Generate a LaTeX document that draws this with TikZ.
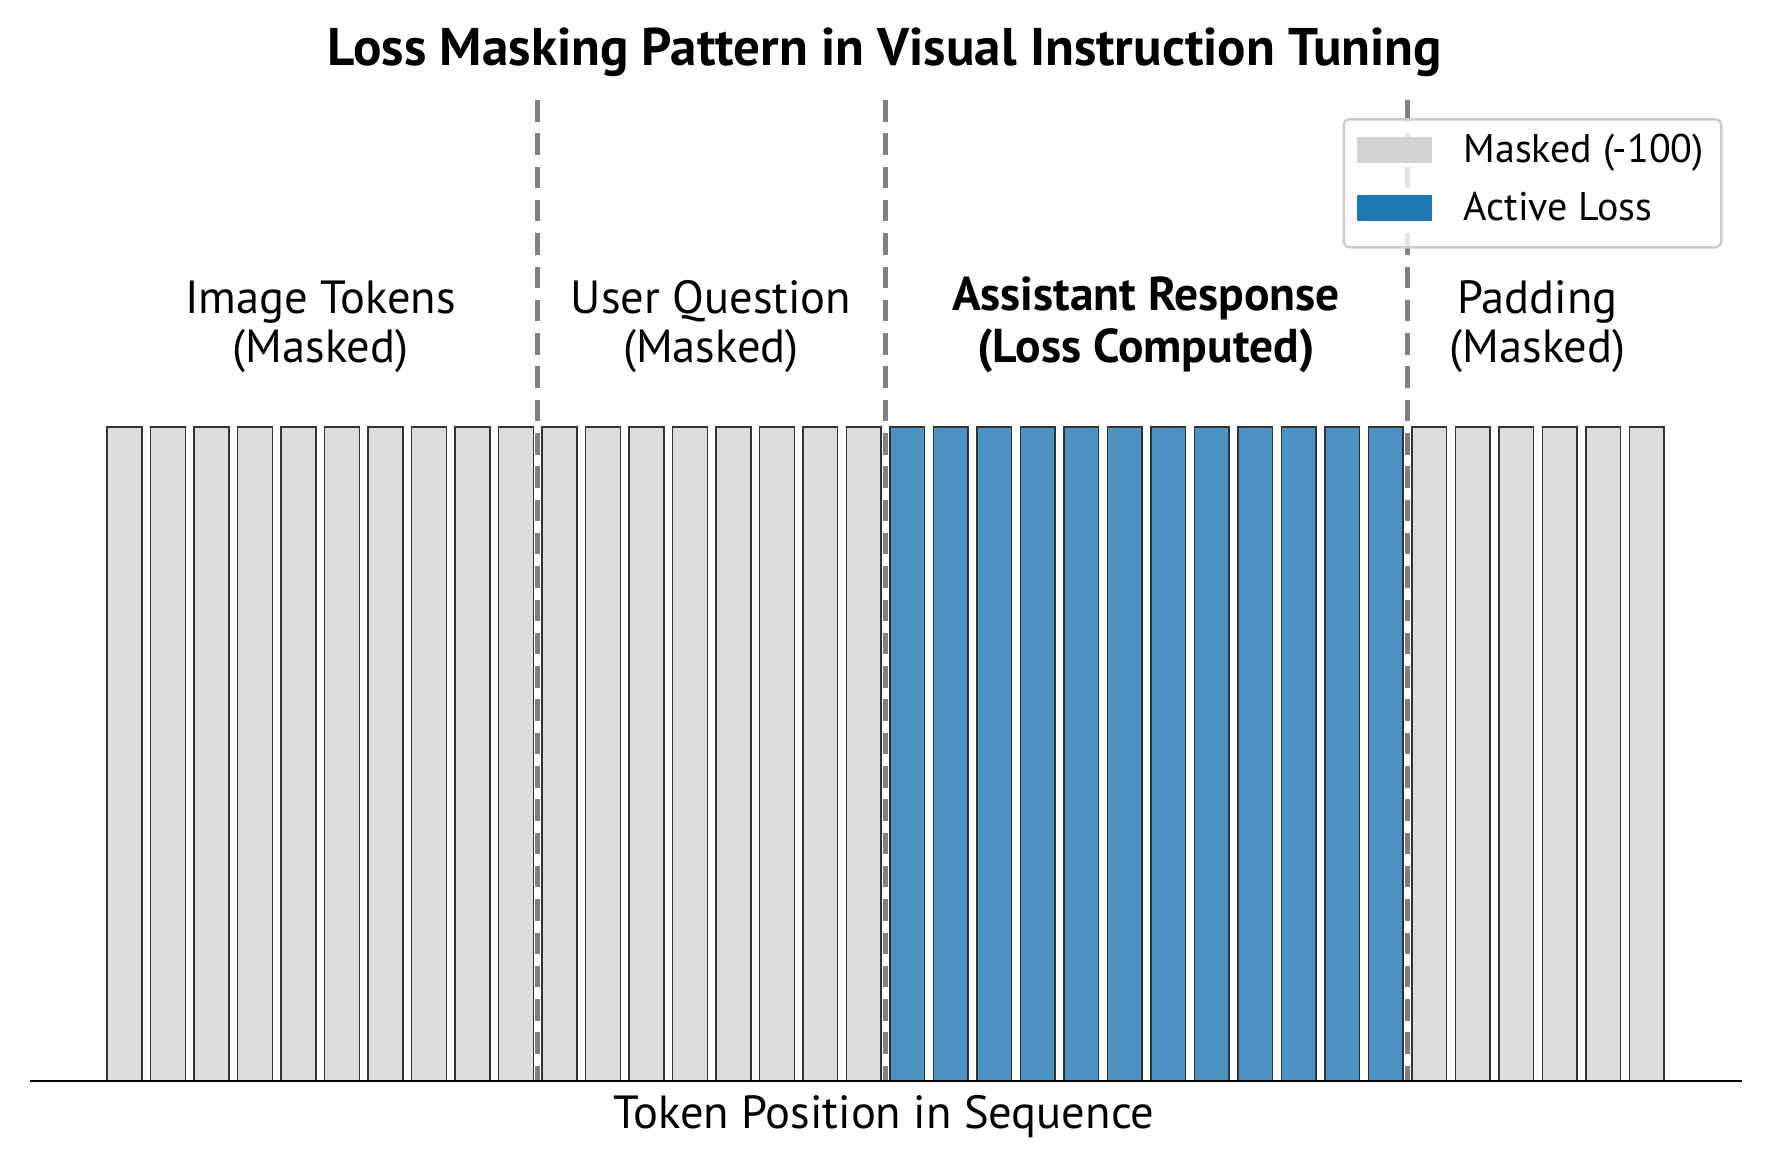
\documentclass[tikz,border=0pt]{standalone}
\usepackage{fontspec}
\setmainfont{PT Sans}
\definecolor{maskgray}{HTML}{DCDCDC}
\definecolor{activeblue}{HTML}{4C92C3}
\definecolor{legblue}{HTML}{1F77B4}
\definecolor{leggray}{HTML}{D3D3D3}
\definecolor{edgec}{HTML}{333333}
\definecolor{sepgray}{HTML}{808080}
\definecolor{legframe}{HTML}{CCCCCC}
\begin{document}
\begin{tikzpicture}[x=1pt,y=-1pt,
  tokbar/.style={draw=edgec,line width=1.5pt,inner sep=0pt,outer sep=0pt,
    minimum width=34.8pt,minimum height=654pt,anchor=south},
  sepline/.style={draw=sepgray,line width=5.5pt,dash pattern=on 21.5pt off 11.8pt},
  lbl/.style={font=\fontsize{46.5}{55}\selectfont,anchor=base,inner sep=0pt},
  lblb/.style={font=\fontsize{47.5}{56}\selectfont\bfseries,anchor=base,inner sep=0pt},
  legt/.style={font=\fontsize{40}{48}\selectfont,anchor=base west,inner sep=0pt},
  legpatch/.style={minimum width=75.5pt,minimum height=26.6pt,anchor=north west,inner sep=0pt,outer sep=0pt}]
\useasboundingbox (0,0) rectangle (1770,1170);
% separators (behind bars)
\foreach \k/\sx in {1/537.7,2/885.6,3/1407.5}{
  \coordinate (s\k t) at (\sx,100);
  \coordinate (s\k b) at (\sx,1081);
  \draw[sepline] (s\k t) -- (s\k b);
}
% bars
\foreach \i in {0,...,35}{
  \pgfmathsetmacro{\cx}{124.5+\i*43.49}
  \pgfmathtruncatemacro{\act}{(\i>17)&&(\i<30)}
  \ifnum\act=1 \def\fc{activeblue}\else\def\fc{maskgray}\fi
  \node[tokbar,fill=\fc] (b\i) at (\cx,1081) {};
}
% axis
\coordinate (axl) at (29.5,1081);
\coordinate (axr) at (1741.5,1081);
\draw[black,line width=2.7pt] (axl) -- (axr);
% title
\node[font=\fontsize{53}{62}\selectfont\bfseries,anchor=base,inner sep=0pt] (title) at (885,65) {Loss Masking Pattern in Visual Instruction Tuning};
% section labels
\node[lbl] (img1) at (320.5,313) {Image Tokens};
\node[lbl] (img2) at (320.5,362) {(Masked)};
\node[lbl] (usr1) at (711,313) {User Question};
\node[lbl] (usr2) at (711,362) {(Masked)};
\node[lblb] (ast1) at (1146,310) {Assistant Response};
\node[lblb] (ast2) at (1146,362) {(Loss Computed)};
\node[lbl] (pad1) at (1537.5,313) {Padding};
\node[lbl] (pad2) at (1537.5,362) {(Masked)};
% x label
\node[lbl] (xlab) at (884,1128) {Token Position in Sequence};
% legend
\node[draw=legframe,line width=2.5pt,fill=white,fill opacity=0.8,rounded corners=6pt,
  minimum width=377.5pt,minimum height=128pt,anchor=north west,inner sep=0pt] (leg) at (1342.5,118) {};
\node[legpatch,fill=leggray] (lp1) at (1356.7,136.7) {};
\node[legpatch,fill=legblue] (lp2) at (1356.7,194.5) {};
\node[legt] (lt1) at (1463.4,162.7) {Masked (-100)};
\node[legt] (lt2) at (1463.4,220) {Active Loss};
\end{tikzpicture}
\end{document}
